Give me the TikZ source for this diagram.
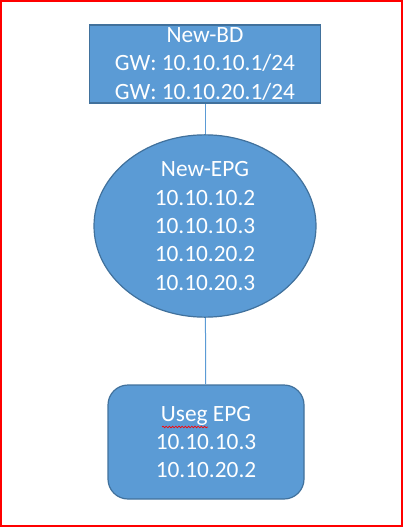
\documentclass[tikz,border=0pt]{standalone}
\usepackage{fontspec}
\setmainfont{Carlito}
\usepackage{tikz}
\usetikzlibrary{shapes}
\usetikzlibrary{positioning}
\usetikzlibrary{decorations.pathmorphing}
\definecolor{boxfill}{HTML}{5B9BD5}
\definecolor{boxedge}{HTML}{41719C}
\begin{document}
\begin{tikzpicture}[
                x = 0.75pt, y = -0.75pt,
                every node/.style = {fill = boxfill, draw = boxedge, line width = 0.9pt,
                                     text = white, align = center, inner sep = 0pt,
                                     font = \fontsize{17.5}{21.3}\selectfont},
                bdbox/.style = {rectangle, minimum width = 173pt, minimum height = 58.5pt},
                epgoval/.style = {ellipse, minimum width = 166.5pt, minimum height = 120pt},
                usegbox/.style = {rectangle, rounded corners = 15pt,
                                  minimum width = 147pt, minimum height = 85.5pt},
                link/.style = {draw = boxfill, line width = 0.75pt}
                ]
                % frame
                \useasboundingbox (0,0) rectangle (403,527);
                \draw[red, line width = 1.2pt] (1,1) rectangle (402,526);

                % Nodes
                \node[bdbox]   (BD)   at (205,64)  {New-BD\\GW: 10.10.10.1/24\\GW: 10.10.20.1/24};
                \node[epgoval] (EPG)  at (205,226) {New-EPG\\10.10.10.2\\10.10.10.3\\10.10.20.2\\10.10.20.3};
                \node[usegbox] (Useg) at (206,442) {Useg EPG\\10.10.10.3\\10.10.20.2};

                % Links
                \draw[link] (BD)  -- (EPG);
                \draw[link] (EPG) -- (Useg);

                % spell-check mark
                \draw[red, line width = 0.5pt, decorate,
                      decoration = {snake, amplitude = 0.6pt, segment length = 2.4pt}]
                      (162,427) -- (208,427);
\end{tikzpicture}
\end{document}
